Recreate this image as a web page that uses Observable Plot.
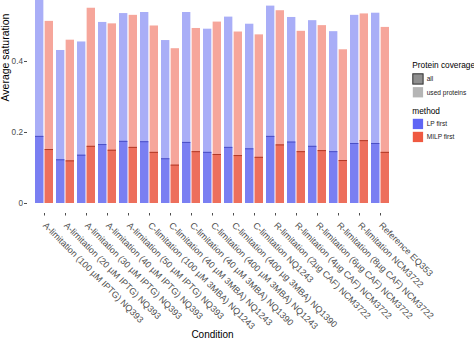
<!DOCTYPE html>
<html>
<head>
<meta charset="utf-8">
<script src="https://cdn.jsdelivr.net/npm/d3@7"></script>
<script src="https://cdn.jsdelivr.net/npm/@observablehq/plot@0.6"></script>
<style>
  html, body { margin: 0; padding: 0; background: white; }
  #chart { width: 474px; height: 339px; overflow: hidden; }
</style>
</head>
<body>
<div id="chart"></div>
<script>
const conditions = [
  "A-limitation (100 µM IPTG) NQ393",
  "A-limitation (20 µM IPTG) NQ393",
  "A-limitation (30 µM IPTG) NQ393",
  "A-limitation (40 µM IPTG) NQ393",
  "A-limitation (50 µM IPTG) NQ393",
  "C-limitation (100 µM 3MBA) NQ1243",
  "C-limitation (40 µM 3MBA) NQ1243",
  "C-limitation (40 µM 3MBA) NQ1390",
  "C-limitation (400 µM 3MBA) NQ1243",
  "C-limitation (400 µg 3MBA) NQ1390",
  "C-limitation NQ1243",
  "R-limitation (2µg CAF) NCM3722",
  "R-limitation (4µg CAF) NCM3722",
  "R-limitation (6µg CAF) NCM3722",
  "R-limitation (8µg CAF) NCM3722",
  "R-limitation NCM3722",
  "Reference EQ353"
];
const methods = ["LP first", "MILP first"];
const coverages = ["all", "used proteins"];

const lpAll    = [0.580, 0.431, 0.455, 0.510, 0.535, 0.538, 0.459, 0.538, 0.491, 0.525, 0.505, 0.556, 0.524, 0.515, 0.484, 0.530, 0.536];
const milpAll  = [0.513, 0.460, 0.550, 0.506, 0.530, 0.500, 0.436, 0.493, 0.511, 0.483, 0.475, 0.543, 0.485, 0.501, 0.433, 0.534, 0.496];
const lpUsed   = [0.189, 0.123, 0.136, 0.166, 0.175, 0.174, 0.126, 0.172, 0.144, 0.158, 0.154, 0.189, 0.173, 0.161, 0.146, 0.169, 0.169];
const milpUsed = [0.152, 0.120, 0.161, 0.150, 0.158, 0.144, 0.108, 0.146, 0.138, 0.135, 0.130, 0.165, 0.146, 0.149, 0.121, 0.177, 0.144];

const yTicks = [0, 0.2, 0.4];

// table built from the arrays
const rows = conditions.flatMap((c, i) => [
  {condition: c, method: methods[0], coverage: coverages[0], value: lpAll[i]},
  {condition: c, method: methods[1], coverage: coverages[0], value: milpAll[i]},
  {condition: c, method: methods[0], coverage: coverages[1], value: lpUsed[i]},
  {condition: c, method: methods[1], coverage: coverages[1], value: milpUsed[i]}
]);
const sel = (m, cv) => rows.filter(d => d.method === m && d.coverage === cv);

const W = 474, H = 339, mL = 27, mR = 77, mT = 0, mB = 126;
const pIn = 0.15, pOut = 0.175;
const step = (W - mL - mR) / (conditions.length - pIn + 2 * pOut);
const bw = step * (1 - pIn);
const half = bw / 2 + 0.5;

const col = {
  lpAll: "#a9aef7", lpUsed: "#7a7ff2", lpTop: "#4a4fc6",
  milpAll: "#f6a69b", milpUsed: "#ed6f5c", milpTop: "#b23a27"
};

const font = "'Liberation Sans', Arial, Helvetica, sans-serif";

const svg = Plot.plot({
  width: W, height: H,
  marginLeft: mL, marginRight: mR, marginTop: mT, marginBottom: mB,
  style: {fontFamily: font, background: "white", overflow: "hidden"},
  x: {domain: conditions, paddingInner: pIn, paddingOuter: pOut, label: null},
  y: {domain: [-0.0282, 0.5718], label: null},
  marks: [
    Plot.barY(sel(methods[0], coverages[0]), {x: "condition", y: "value", fill: col.lpAll, insetRight: half, clip: true}),
    Plot.barY(sel(methods[1], coverages[0]), {x: "condition", y: "value", fill: col.milpAll, insetLeft: half, clip: true}),
    Plot.barY(sel(methods[0], coverages[1]), {x: "condition", y: "value", fill: col.lpUsed, insetRight: half}),
    Plot.barY(sel(methods[1], coverages[1]), {x: "condition", y: "value", fill: col.milpUsed, insetLeft: half}),
    Plot.tickY(sel(methods[0], coverages[1]), {x: "condition", y: "value", stroke: col.lpTop, strokeWidth: 1, insetRight: half}),
    Plot.tickY(sel(methods[1], coverages[1]), {x: "condition", y: "value", stroke: col.milpTop, strokeWidth: 1, insetLeft: half}),
    Plot.axisY({ticks: yTicks, tickFormat: d => d === 0 ? "0" : d3.format(".1f")(d),
      tickSize: 3, tickPadding: 1.5, fontSize: 8.2, color: "#4d4d4d", label: null}),
    Plot.axisX({tickRotate: 45, tickSize: 2.5, tickPadding: 8, fontSize: 9, color: "#4d4d4d", label: null}),
    Plot.text(["Average saturation"], {text: d => d, frameAnchor: "left", rotate: -90, dx: -21.5, dy: -5.5, fontSize: 10.5, fill: "black"}),
    Plot.text(["Condition"], {text: d => d, frameAnchor: "bottom", dy: 124.5, fontSize: 10, fill: "black"})
  ]
});

// legend
const g = d3.select(svg).append("g").attr("font-family", font).attr("text-anchor", "start");
const lx = 412.3, tx = 426.7;
g.append("text").attr("x", lx).attr("y", 68.2).attr("font-size", 8.3).attr("fill", "black").text("Protein coverage");
const cov = [
  {label: coverages[0], y: 73.3, fill: "#8f8f8f", stroke: "#2e2e2e"},
  {label: coverages[1], y: 86.6, fill: "#b5b5b5", stroke: "none"}
];
const meth = [
  {label: methods[0], y: 118.3, fill: "#5f65f5", stroke: "none"},
  {label: methods[1], y: 131.3, fill: "#ef5941", stroke: "none"}
];
g.append("text").attr("x", lx).attr("y", 113.7).attr("font-size", 8.3).attr("fill", "black").text("method");
for (const k of [...cov, ...meth]) {
  g.append("rect").attr("x", lx + 0.5).attr("y", k.y + 0.5).attr("width", 10.3).attr("height", 10.3)
    .attr("fill", k.fill).attr("stroke", k.stroke).attr("stroke-width", 1);
  g.append("text").attr("x", tx).attr("y", k.y + 5.6).attr("dy", "0.35em")
    .attr("font-size", 6.6).attr("fill", "#222").text(k.label);
}

document.getElementById("chart").appendChild(svg);
</script>
</body>
</html>
